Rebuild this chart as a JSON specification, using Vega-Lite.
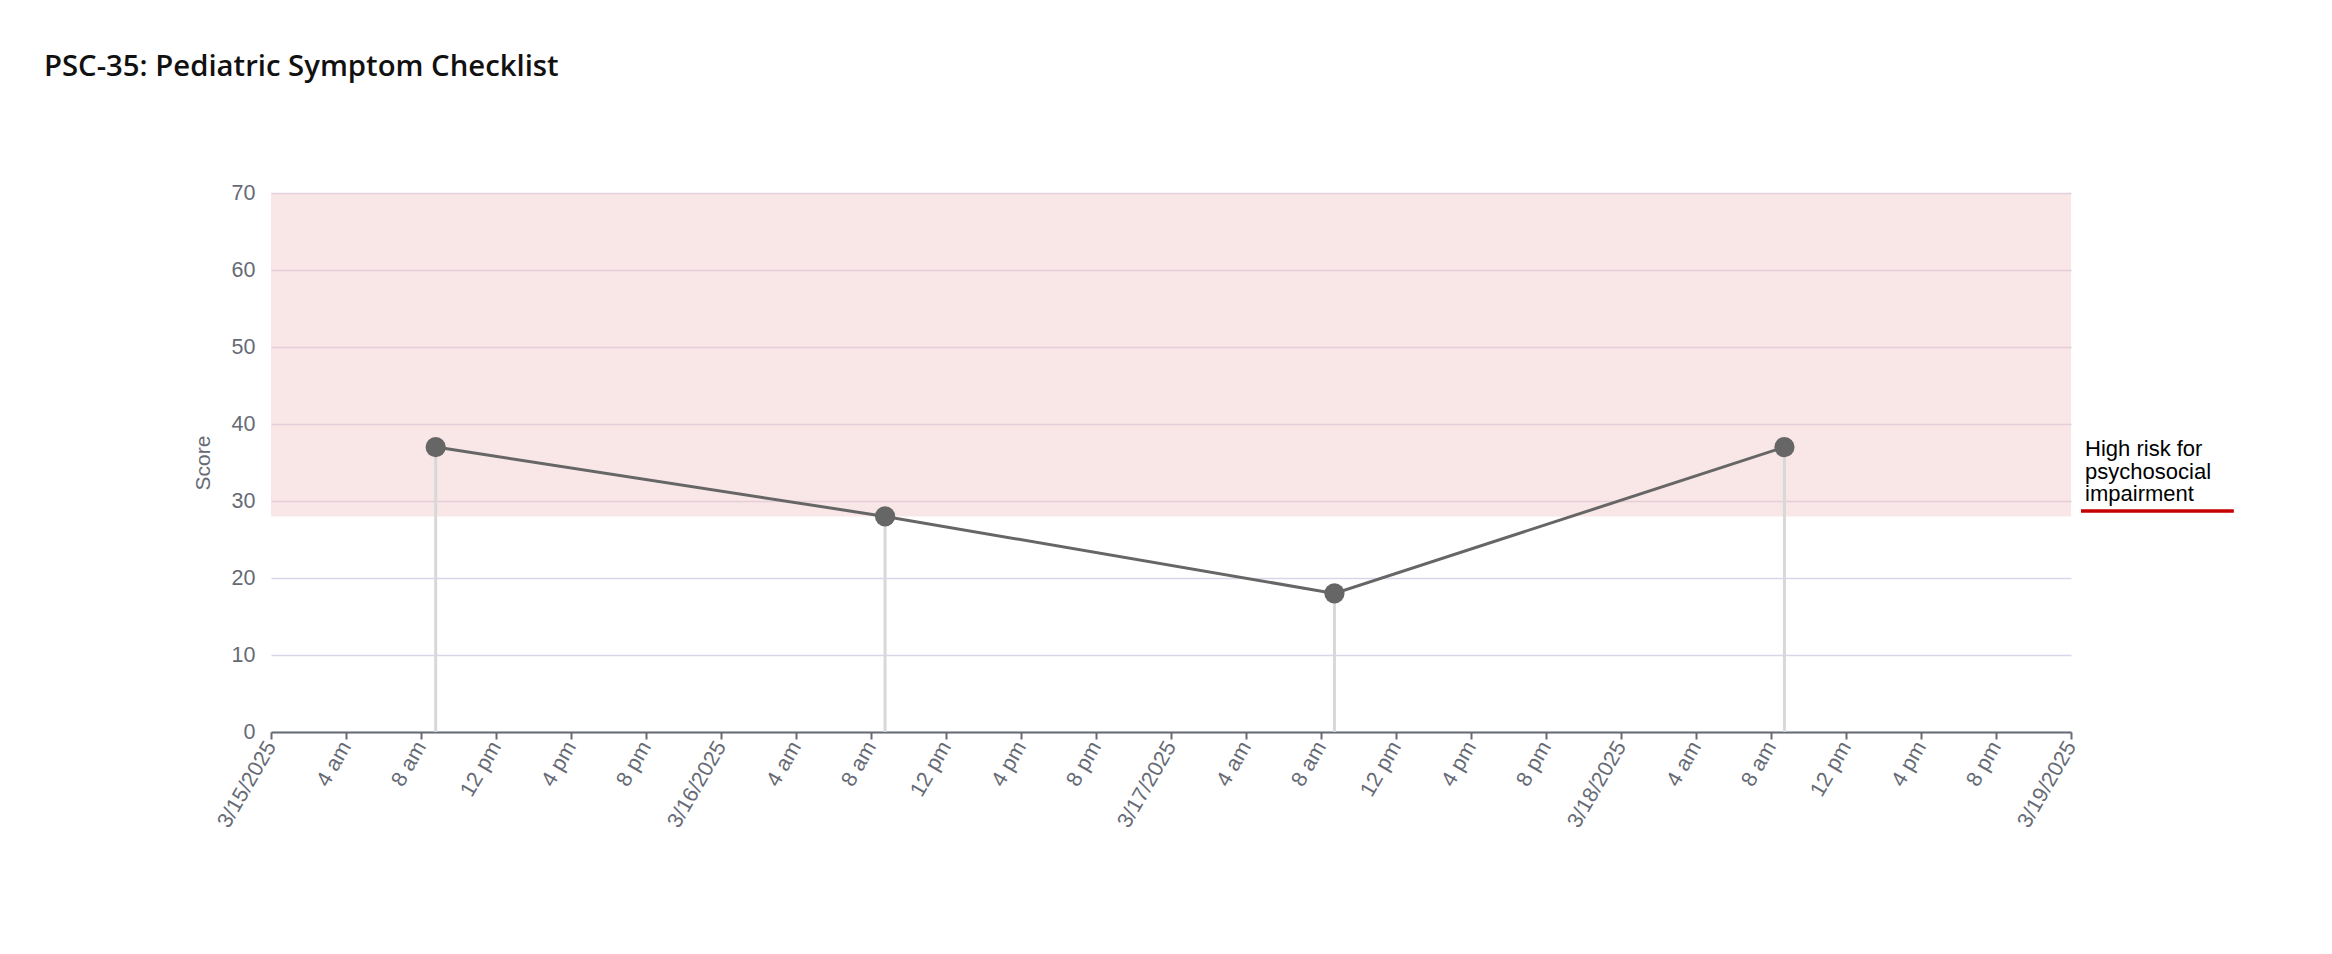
{
  "$schema": "https://vega.github.io/schema/vega-lite/v6.json",
  "autosize": {"type": "none"},
  "width": 1800,
  "height": 539,
  "padding": {"left": 271, "top": 193, "right": 261, "bottom": 222},
  "background": "white",
  "config": {"view": {"stroke": null}},
  "title": {
    "text": "PSC-35: Pediatric Symptom Checklist",
    "anchor": "start",
    "frame": "group",
    "font": "Open Sans",
    "fontWeight": 600,
    "fontSize": 29.3,
    "color": "#111111",
    "baseline": "alphabetic",
    "dx": -227,
    "offset": 77
  },
  "datasets": {
    "scores": [
      {"date": "2025-03-15T08:47", "score": 37},
      {"date": "2025-03-16T08:45", "score": 28},
      {"date": "2025-03-17T08:43", "score": 18},
      {"date": "2025-03-18T08:43", "score": 37}
    ],
    "band": [{"low": 28, "high": 70}],
    "label": [{"date": "2025-03-19T00:45", "y": 35.8, "text": ["High risk for", "psychosocial", "impairment"]}],
    "underline": [{"start": "2025-03-19T00:32", "end": "2025-03-19T08:41", "y": 28.7}]
  },
  "layer": [
    {
      "data": {"name": "band"},
      "mark": {"type": "rect", "color": "#f0c4c4", "opacity": 0.42},
      "encoding": {
        "y": {"field": "low", "type": "quantitative", "scale": {"domain": [0, 70]},
          "axis": {
            "values": [0, 10, 20, 30, 40, 50, 60, 70],
            "title": "Score",
            "titleFont": "Liberation Sans",
            "titleFontWeight": "normal",
            "titleFontSize": 21,
            "titleColor": "#666a75",
            "titlePadding": 18,
            "labelFont": "Liberation Sans",
            "labelFontSize": 21.5,
            "labelColor": "#666a75",
            "labelPadding": 16,
            "ticks": false,
            "domain": false,
            "grid": true,
            "gridColor": "#d9d6ea",
            "gridWidth": 1.5
          }
        },
        "y2": {"field": "high"}
      }
    },
    {
      "data": {"name": "scores"},
      "mark": {"type": "rule", "color": "#d8d8d8", "strokeWidth": 3},
      "encoding": {
        "x": {"field": "date", "type": "temporal",
          "scale": {"domain": [{"year": 2025, "month": 3, "date": 15}, {"year": 2025, "month": 3, "date": 19}]},
          "axis": {
            "title": null,
            "values": [
              {"year": 2025, "month": 3, "date": 15, "hours": 0},
              {"year": 2025, "month": 3, "date": 15, "hours": 4},
              {"year": 2025, "month": 3, "date": 15, "hours": 8},
              {"year": 2025, "month": 3, "date": 15, "hours": 12},
              {"year": 2025, "month": 3, "date": 15, "hours": 16},
              {"year": 2025, "month": 3, "date": 15, "hours": 20},
              {"year": 2025, "month": 3, "date": 16, "hours": 0},
              {"year": 2025, "month": 3, "date": 16, "hours": 4},
              {"year": 2025, "month": 3, "date": 16, "hours": 8},
              {"year": 2025, "month": 3, "date": 16, "hours": 12},
              {"year": 2025, "month": 3, "date": 16, "hours": 16},
              {"year": 2025, "month": 3, "date": 16, "hours": 20},
              {"year": 2025, "month": 3, "date": 17, "hours": 0},
              {"year": 2025, "month": 3, "date": 17, "hours": 4},
              {"year": 2025, "month": 3, "date": 17, "hours": 8},
              {"year": 2025, "month": 3, "date": 17, "hours": 12},
              {"year": 2025, "month": 3, "date": 17, "hours": 16},
              {"year": 2025, "month": 3, "date": 17, "hours": 20},
              {"year": 2025, "month": 3, "date": 18, "hours": 0},
              {"year": 2025, "month": 3, "date": 18, "hours": 4},
              {"year": 2025, "month": 3, "date": 18, "hours": 8},
              {"year": 2025, "month": 3, "date": 18, "hours": 12},
              {"year": 2025, "month": 3, "date": 18, "hours": 16},
              {"year": 2025, "month": 3, "date": 18, "hours": 20},
              {"year": 2025, "month": 3, "date": 19, "hours": 0}
            ],
            "labelExpr": "hours(datum.value) == 0 ? timeFormat(datum.value, '%-m/%-d/%Y') : lower(timeFormat(datum.value, '%-I %p'))",
            "labelAngle": -60,
            "labelAlign": "right",
            "labelBaseline": "middle",
            "labelFont": "Liberation Sans",
            "labelFontSize": 21.5,
            "labelColor": "#666a75",
            "labelPadding": 4,
            "labelOverlap": false,
            "labelFlush": false,
            "tickColor": "#666a75",
            "tickSize": 7,
            "tickWidth": 2,
            "domainColor": "#666a75",
            "domainWidth": 2,
            "grid": false
          }
        },
        "y": {"field": "score", "type": "quantitative"},
        "y2": {"datum": 0}
      }
    },
    {
      "data": {"name": "scores"},
      "mark": {"type": "line", "color": "#666666", "strokeWidth": 3},
      "encoding": {
        "x": {"field": "date", "type": "temporal"},
        "y": {"field": "score", "type": "quantitative"}
      }
    },
    {
      "data": {"name": "scores"},
      "mark": {"type": "circle", "color": "#666666", "opacity": 1, "size": 410},
      "encoding": {
        "x": {"field": "date", "type": "temporal"},
        "y": {"field": "score", "type": "quantitative"}
      }
    },
    {
      "data": {"name": "label"},
      "mark": {"type": "text", "align": "left", "baseline": "alphabetic", "font": "Liberation Sans", "fontSize": 22, "lineHeight": 22.5, "color": "#000000"},
      "encoding": {
        "x": {"field": "date", "type": "temporal"},
        "y": {"field": "y", "type": "quantitative"},
        "text": {"field": "text"}
      }
    },
    {
      "data": {"name": "underline"},
      "mark": {"type": "rule", "color": "#c40000", "strokeWidth": 3.5},
      "encoding": {
        "x": {"field": "start", "type": "temporal"},
        "x2": {"field": "end"},
        "y": {"field": "y", "type": "quantitative"}
      }
    }
  ]
}
